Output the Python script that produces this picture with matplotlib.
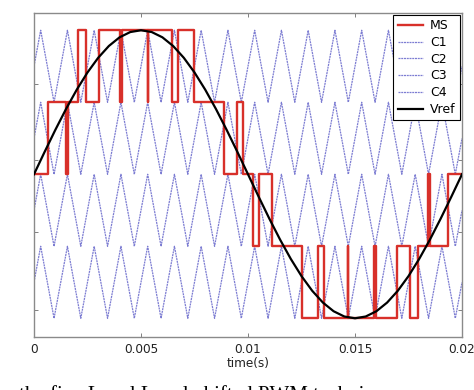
import matplotlib
matplotlib.use("Agg")
import matplotlib.pyplot as plt
import numpy as np

# reference sine, sampled every 0.5 ms over one 50 Hz period
ref_t_ms = [0.5 * k for k in range(41)]
ref_v = [0.0, 0.1564, 0.3090, 0.4540, 0.5878, 0.7071, 0.8090, 0.8910, 0.9511, 0.9877,
         1.0, 0.9877, 0.9511, 0.8910, 0.8090, 0.7071, 0.5878, 0.4540, 0.3090, 0.1564,
         0.0, -0.1564, -0.3090, -0.4540, -0.5878, -0.7071, -0.8090, -0.8910, -0.9511, -0.9877,
         -1.0, -0.9877, -0.9511, -0.8910, -0.8090, -0.7071, -0.5878, -0.4540, -0.3090, -0.1564,
         0.0]

# carrier corner points (ms) and their height inside a band (0 = bottom, 1 = top)
carrier_t_ms = [0, 0.3125, 0.9375, 1.5625, 2.1875, 2.8125, 3.4375, 4.0625, 4.6875,
                5.3125, 5.9375, 6.5625, 7.1875, 7.8125, 8.4375, 9.0625, 9.6875,
                10.3125, 10.9375, 11.5625, 12.1875, 12.8125, 13.4375, 14.0625, 14.6875,
                15.3125, 15.9375, 16.5625, 17.1875, 17.8125, 18.4375, 19.0625, 19.6875, 20]
carrier_shape = [0.5, 1, 0, 1, 0, 1, 0, 1, 0, 1, 0, 1, 0, 1, 0, 1, 0,
                 1, 0, 1, 0, 1, 0, 1, 0, 1, 0, 1, 0, 1, 0, 1, 0, 0.5]
carrier_names = ["C1", "C2", "C3", "C4"]
carrier_base = [0.5, 0.0, -0.5, -1.0]
band_height = 0.5

# multilevel output: switching instants (ms) and the level held after each
ms_t_ms = [0.0, 0.675, 1.508, 1.589, 2.059, 2.425, 3.042, 4.002, 4.111, 5.307,
           5.319, 6.437, 6.746, 7.458, 8.872, 9.487, 9.776, 10.224, 10.513, 11.129,
           12.542, 13.254, 13.563, 14.681, 14.693, 15.889, 15.998, 16.958, 17.575,
           17.941, 18.411, 18.492, 19.325, 20.0]
ms_level = [0.0, 0.5, 0.0, 0.5, 1.0, 0.5, 1.0, 0.5, 1.0, 0.5,
            1.0, 0.5, 1.0, 0.5, 0.0, 0.5, 0.0, -0.5, 0.0, -0.5,
            -1.0, -0.5, -1.0, -0.5, -1.0, -0.5, -1.0, -0.5, -1.0,
            -0.5, 0.0, -0.5, 0.0, 0.0]

xticks = [0, 0.005, 0.01, 0.015, 0.02]
xtick_labels = ["0", "0.005", "0.01", "0.015", "0.02"]
caption = "the five Level Level-shifted PWM technique"

fig = plt.figure(figsize=(4.74, 3.90), dpi=100)
ax = fig.add_axes([0.0717, 0.1359, 0.903, 0.8308])

ax.step(np.array(ms_t_ms) / 1000, ms_level, where="post",
        color="#d8302a", lw=1.7, label="MS", zorder=3)
for name, base in zip(carrier_names, carrier_base):
    ax.plot(np.array(carrier_t_ms) / 1000, base + band_height * np.array(carrier_shape),
            color="#7c7cd2", lw=0.9, ls=(0, (1.6, 0.6)), label=name, zorder=2)
ax.plot(np.array(ref_t_ms) / 1000, ref_v, color="black", lw=1.6, label="Vref", zorder=4)

ax.set_xlim(0, 0.02)
ax.set_ylim(-1.13, 1.12)
ax.set_xticks(xticks)
ax.set_xticklabels(xtick_labels)
ax.set_yticks([-0.94, -0.40, 0.10, 0.63])
ax.set_yticklabels([])
ax.tick_params(direction="in", length=3, width=0.7, color="#808080",
               top=True, right=True, labelsize=8.7, labelcolor="#222222", pad=4)
for sp in ax.spines.values():
    sp.set_color("#8a8a8a")
    sp.set_linewidth(1.0)
ax.set_xlabel("time(s)", fontsize=8.7, color="#222222", labelpad=1)

leg = ax.legend(loc="upper right", fontsize=9, fancybox=False, framealpha=1,
                edgecolor="black", borderaxespad=0.15, borderpad=0.35,
                labelspacing=0.3, handlelength=2.0, handletextpad=0.6)
leg.get_frame().set_linewidth(0.8)

fig.text(19.4 / 474, -10 / 390, caption, family="Liberation Serif", fontsize=15,
         ha="left", va="baseline", color="black")

plt.savefig("out.png", dpi=100)
